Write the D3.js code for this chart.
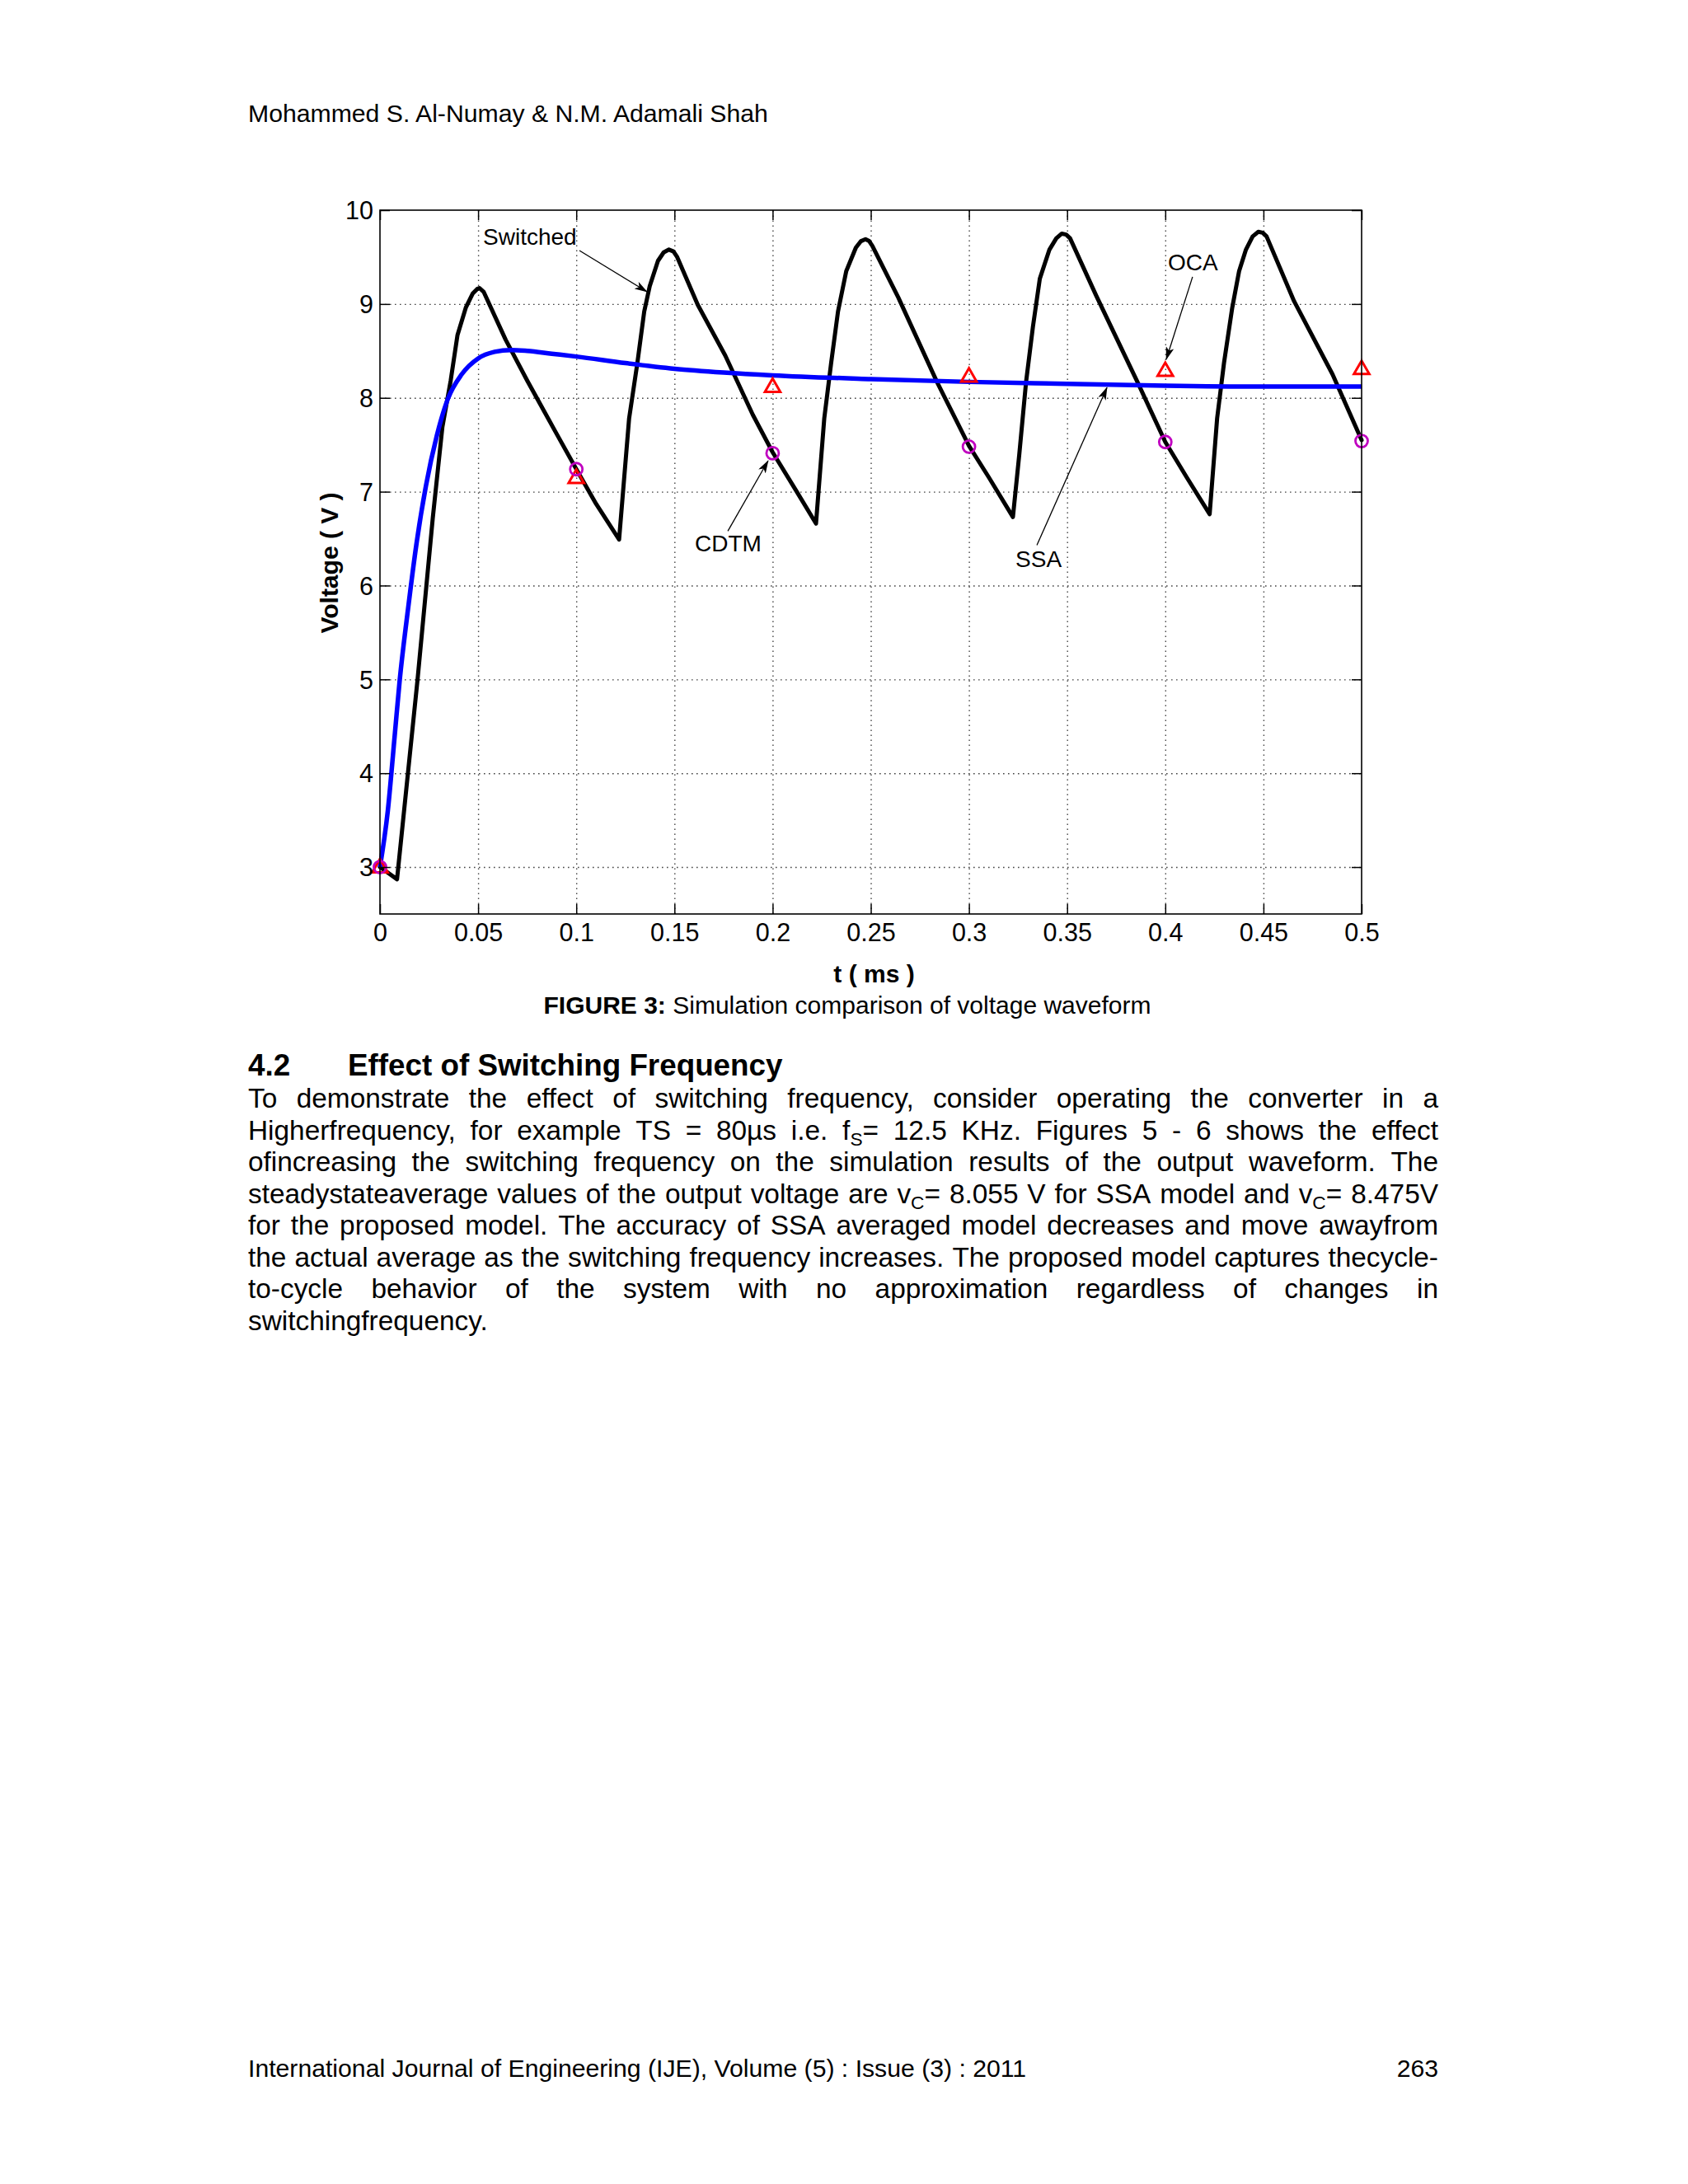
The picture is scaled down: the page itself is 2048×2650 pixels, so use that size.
<!DOCTYPE html>
<html><head><meta charset="utf-8">
<script src="https://cdn.jsdelivr.net/npm/d3@7"></script>
<style>
body{margin:0;background:#fff}
svg{display:block;background:#fff}
text{font-family:"Liberation Sans",Arial,Helvetica,sans-serif;fill:#000}
</style>
</head><body>
<svg id="c" width="2048" height="2650"></svg>
<script>
// ---------------- DATA ----------------
const switchedT = [0, 0.0087, 0.0192, 0.0269, 0.0318, 0.036, 0.0395, 0.0437, 0.0472, 0.0495, 0.0507, 0.0528, 0.064, 0.0751, 0.0891, 0.1003, 0.1101, 0.1218,
  0.1269, 0.1311, 0.1346, 0.1374, 0.1416, 0.1445, 0.1472, 0.1495, 0.1514, 0.1619, 0.1759, 0.1899, 0.2, 0.2123, 0.2221,
  0.2263, 0.2298, 0.2333, 0.2375, 0.2424, 0.245, 0.2473, 0.2492, 0.2508, 0.264, 0.2837, 0.3, 0.3102, 0.3224,
  0.3256, 0.3291, 0.3326, 0.3361, 0.341, 0.3445, 0.3473, 0.3495, 0.3515, 0.3648, 0.3858, 0.4, 0.411, 0.4226,
  0.4264, 0.4299, 0.4341, 0.4376, 0.4411, 0.4445, 0.4474, 0.4496, 0.4516, 0.4656, 0.4852, 0.5];
const switchedV = [3.0, 2.87, 5.01, 6.72, 7.69, 8.18, 8.67, 8.96, 9.11, 9.16, 9.17, 9.13, 8.62, 8.18, 7.65, 7.23, 6.87, 6.49,
  7.78, 8.37, 8.92, 9.19, 9.46, 9.55, 9.58, 9.56, 9.50, 8.99, 8.45, 7.82, 7.42, 7.00, 6.66,
  7.78, 8.37, 8.92, 9.35, 9.60, 9.67, 9.69, 9.67, 9.62, 9.07, 8.17, 7.49, 7.15, 6.73,
  7.39, 8.17, 8.76, 9.27, 9.58, 9.70, 9.75, 9.74, 9.70, 9.09, 8.17, 7.53, 7.15, 6.76,
  7.78, 8.37, 8.96, 9.35, 9.58, 9.72, 9.77, 9.76, 9.72, 9.03, 8.25, 7.55];

const ssaT = [0, 0.004, 0.0075, 0.0101, 0.0143, 0.0185, 0.0234, 0.029, 0.0346, 0.0416, 0.05, 0.0584, 0.0668, 0.075, 0.0875, 0.1, 0.125, 0.15, 0.175, 0.2, 0.25, 0.3, 0.35, 0.4, 0.45, 0.5];
const ssaV = [3.0, 3.6, 4.4, 5.0, 5.75, 6.43, 7.06, 7.60, 7.99, 8.25, 8.42, 8.49, 8.51, 8.50, 8.47, 8.44, 8.37, 8.31, 8.27, 8.24, 8.20, 8.17, 8.15, 8.13, 8.12, 8.12];

const sampleT = [0, 0.1, 0.2, 0.3, 0.4, 0.5];
const ocaV  = [3.0, 7.15, 8.12, 8.23, 8.29, 8.31];
const cdtmV = [3.0, 7.24, 7.41, 7.48, 7.53, 7.54];

const xTicks = [0, 0.05, 0.1, 0.15, 0.2, 0.25, 0.3, 0.35, 0.4, 0.45, 0.5];
const xTickLabels = ["0", "0.05", "0.1", "0.15", "0.2", "0.25", "0.3", "0.35", "0.4", "0.45", "0.5"];
const yTicks = [3, 4, 5, 6, 7, 8, 9, 10];
const yTickLabels = ["3", "4", "5", "6", "7", "8", "9", "10"];

// annotations (data units): label, text pos, arrow start, arrow tip
const annLabels = ["Switched", "CDTM", "SSA", "OCA"];
const annTextT = [0.0525, 0.1604, 0.3237, 0.4013];
const annTextV = [9.63, 6.36, 6.20, 9.36];
const arrowFromT = [0.1016, 0.1772, 0.3346, 0.4139];
const arrowFromV = [9.57, 6.58, 6.43, 9.29];
const arrowToT = [0.1360, 0.1977, 0.3703, 0.4005];
const arrowToV = [9.13, 7.33, 8.11, 8.41];

// ---------------- LAYOUT ----------------
const FONT = '"Liberation Sans",Arial,Helvetica,sans-serif';
const svg = d3.select("#c");
const M = {l: 461, r: 1652, t: 255, b: 1109};
const x = d3.scaleLinear().domain([0, 0.5]).range([M.l, M.r]);
const y = d3.scaleLinear().domain([2.5, 10]).range([M.b, M.t]);
const PH = M.b - M.t, PW = M.r - M.l;

// header
svg.append("text").attr("x", 301).attr("y", 148).attr("font-size", 30.2)
  .text("Mohammed S. Al-Numay & N.M. Adamali Shah");

// grid
const gridX = svg.append("g").attr("transform", `translate(0,${M.b})`)
  .call(d3.axisBottom(x).tickValues(xTicks.slice(1, -1)).tickFormat("").tickSizeInner(-PH).tickSizeOuter(0));
gridX.select(".domain").remove();
gridX.selectAll("line").attr("stroke", "#444").attr("stroke-width", 1.4).attr("stroke-dasharray", "1.6,4.4");
const gridY = svg.append("g").attr("transform", `translate(${M.l},0)`)
  .call(d3.axisLeft(y).tickValues(yTicks.slice(0, -1)).tickFormat("").tickSizeInner(-PW).tickSizeOuter(0));
gridY.select(".domain").remove();
gridY.selectAll("line").attr("stroke", "#444").attr("stroke-width", 1.4).attr("stroke-dasharray", "1.6,4.4");

// lines
const swData = switchedT.map((t, i) => [t, switchedV[i]]);
const ssaData = ssaT.map((t, i) => [t, ssaV[i]]);
const lineSw = d3.line().x(d => x(d[0])).y(d => y(d[1]));
const lineSsa = d3.line().x(d => x(d[0])).y(d => y(d[1])).curve(d3.curveMonotoneX);
svg.append("path").datum(swData).attr("d", lineSw).attr("fill", "none")
  .attr("stroke", "#000").attr("stroke-width", 5).attr("stroke-linejoin", "round").attr("stroke-linecap", "round");
svg.append("path").datum(ssaData).attr("d", lineSsa).attr("fill", "none")
  .attr("stroke", "#0000ff").attr("stroke-width", 5.5).attr("stroke-linejoin", "round");

// markers
const triSym = d3.symbol().type(d3.symbolTriangle).size(150);
svg.append("g").selectAll("path").data(sampleT.map((t, i) => [t, ocaV[i]])).join("path")
  .attr("d", triSym).attr("transform", d => `translate(${x(d[0])},${y(d[1]) + 1})`)
  .attr("fill", "none").attr("stroke", "#ff0000").attr("stroke-width", 3);
svg.append("g").selectAll("circle").data(sampleT.map((t, i) => [t, cdtmV[i]])).join("circle")
  .attr("cx", d => x(d[0])).attr("cy", d => y(d[1])).attr("r", 7.5)
  .attr("fill", "none").attr("stroke", "#c000c0").attr("stroke-width", 2.8);

// axes (inward ticks)
const ax = svg.append("g").attr("transform", `translate(0,${M.b})`)
  .call(d3.axisBottom(x).tickValues(xTicks).tickFormat((d, i) => xTickLabels[i]).tickSizeInner(-12).tickSizeOuter(0));
ax.attr("font-size", 30.5).attr("font-family", FONT);
ax.select(".domain").remove();
ax.selectAll("line").attr("stroke", "#000").attr("stroke-width", 1.5);
ax.selectAll("text").attr("y", 33).attr("dy", null).attr("fill", "#000");
const axT = svg.append("g").attr("transform", `translate(0,${M.t})`)
  .call(d3.axisTop(x).tickValues(xTicks).tickFormat("").tickSizeInner(-12).tickSizeOuter(0));
axT.select(".domain").remove();
axT.selectAll("line").attr("stroke", "#000").attr("stroke-width", 1.5);
const ay = svg.append("g").attr("transform", `translate(${M.l},0)`)
  .call(d3.axisLeft(y).tickValues(yTicks).tickFormat((d, i) => yTickLabels[i]).tickSizeInner(-12).tickSizeOuter(0).tickPadding(8));
ay.attr("font-size", 30.5).attr("font-family", FONT);
ay.select(".domain").remove();
ay.selectAll("line").attr("stroke", "#000").attr("stroke-width", 1.5);
ay.selectAll("text").attr("fill", "#000").attr("dy", "0.35em");
const ayR = svg.append("g").attr("transform", `translate(${M.r},0)`)
  .call(d3.axisRight(y).tickValues(yTicks).tickFormat("").tickSizeInner(-12).tickSizeOuter(0));
ayR.select(".domain").remove();
ayR.selectAll("line").attr("stroke", "#000").attr("stroke-width", 1.5);

svg.append("rect").attr("x", M.l).attr("y", M.t).attr("width", PW).attr("height", PH)
  .attr("fill", "none").attr("stroke", "#000").attr("stroke-width", 1.6);

// axis labels
svg.append("text").attr("transform", `translate(410,${(M.t + M.b) / 2 + 1}) rotate(-90)`)
  .attr("text-anchor", "middle").attr("font-size", 30).attr("font-weight", "bold").text("Voltage ( V )");
svg.append("text").attr("x", (M.l + M.r) / 2 + 4).attr("y", 1192)
  .attr("text-anchor", "middle").attr("font-size", 30).attr("font-weight", "bold").text("t ( ms )");

// annotations
const defs = svg.append("defs");
defs.append("marker").attr("id", "ah").attr("viewBox", "0 0 16 10").attr("refX", 15).attr("refY", 5)
  .attr("markerWidth", 16).attr("markerHeight", 10).attr("markerUnits", "userSpaceOnUse").attr("orient", "auto")
  .append("path").attr("d", "M0,0 L16,5 L0,10 L4,5 Z").attr("fill", "#000");
annLabels.forEach((lab, i) => {
  svg.append("text").attr("x", x(annTextT[i])).attr("y", y(annTextV[i])).attr("font-size", 28).text(lab);
  svg.append("line").attr("x1", x(arrowFromT[i])).attr("y1", y(arrowFromV[i]))
    .attr("x2", x(arrowToT[i])).attr("y2", y(arrowToV[i]))
    .attr("stroke", "#000").attr("stroke-width", 1.3).attr("marker-end", "url(#ah)");
});

// caption
const cap = svg.append("text").attr("x", 1028).attr("y", 1230).attr("text-anchor", "middle").attr("font-size", 30);
cap.append("tspan").attr("font-weight", "bold").text("FIGURE 3:");
cap.append("tspan").text(" Simulation comparison of voltage waveform");

// heading
svg.append("text").attr("x", 301).attr("y", 1305).attr("font-size", 36.8).attr("font-weight", "bold").text("4.2");
svg.append("text").attr("x", 422).attr("y", 1305).attr("font-size", 36.8).attr("font-weight", "bold").text("Effect of Switching Frequency");

// body paragraph (justified)
const bodyLines = [
  "To demonstrate the effect of switching frequency, consider operating the converter in a",
  "Higherfrequency, for example TS = 80\u00b5s i.e. f_{S}= 12.5 KHz. Figures 5 - 6 shows the effect",
  "ofincreasing the switching frequency on the simulation results of the output waveform. The",
  "steadystateaverage values of the output voltage are v_{C}= 8.055 V for SSA model and v_{C}= 8.475V",
  "for the proposed model. The accuracy of SSA averaged model decreases and move awayfrom",
  "the actual average as the switching frequency increases. The proposed model captures thecycle-",
  "to-cycle behavior of the system with no approximation regardless of changes in",
  "switchingfrequency."
];
const BX0 = 301, BX1 = 1745, BY0 = 1344, BLH = 38.5, BFS = 33.4;
bodyLines.forEach((ln, li) => {
  const yy = BY0 + li * BLH;
  const words = ln.split(" ");
  const nodes = words.map(w => {
    const t = svg.append("text").attr("y", yy).attr("font-size", BFS);
    const parts = w.split(/(_\{[^}]*\})/).filter(s => s.length);
    let shifted = false;
    parts.forEach(p => {
      const m = p.match(/^_\{(.*)\}$/);
      if (m) { t.append("tspan").attr("font-size", BFS * 0.68).attr("dy", 7).text(m[1]); shifted = true; }
      else { const ts = t.append("tspan").text(p); if (shifted) { ts.attr("dy", -7); shifted = false; } }
    });
    return t;
  });
  const widths = nodes.map(n => n.node().getComputedTextLength());
  const total = d3.sum(widths);
  const justify = li < bodyLines.length - 1;
  const gap = justify ? (BX1 - BX0 - total) / (words.length - 1) : BFS * 0.278;
  let cx = BX0;
  nodes.forEach((n, i) => { n.attr("x", cx); cx += widths[i] + gap; });
});

// footer
svg.append("text").attr("x", 301).attr("y", 2520).attr("font-size", 30.2)
  .text("International Journal of Engineering (IJE), Volume (5) : Issue (3) : 2011");
svg.append("text").attr("x", 1745).attr("y", 2520).attr("font-size", 30.2).attr("text-anchor", "end").text("263");
</script>
</body></html>
